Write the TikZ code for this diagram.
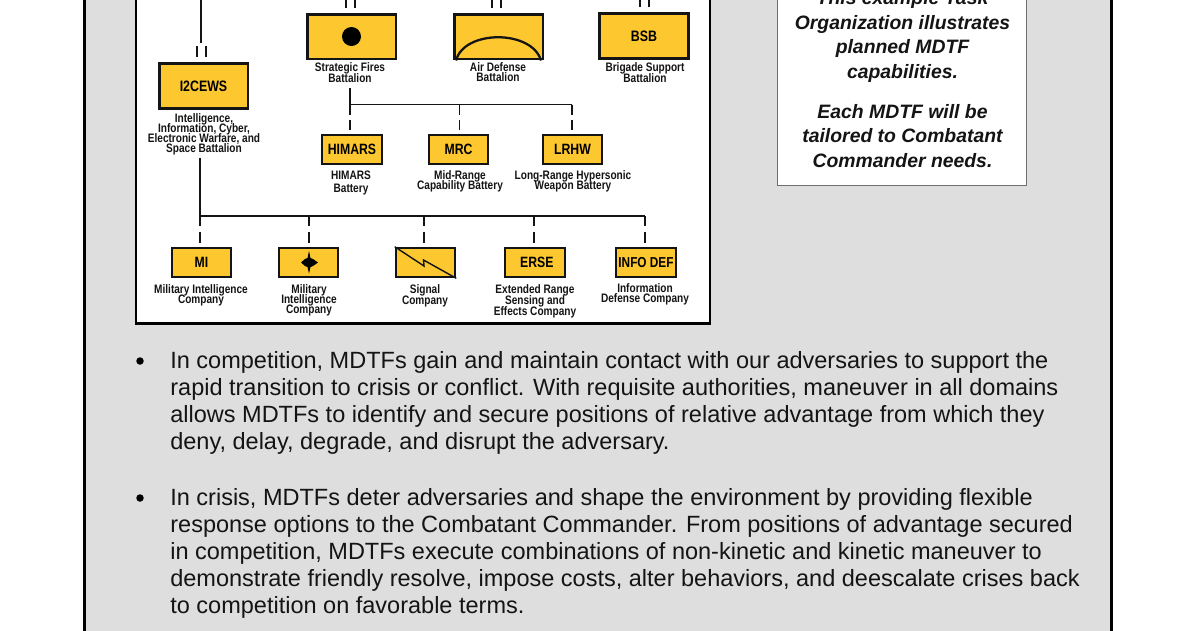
\documentclass[tikz,border=0pt]{standalone}
\usepackage{fontspec}
\setmainfont{Liberation Sans}
\newfontfamily\dinfont[FakeStretch=0.82]{Liberation Sans}
\usetikzlibrary{positioning}
\definecolor{panelgrey}{RGB}{222,222,222}
\definecolor{unityellow}{RGB}{253,200,47}
\definecolor{inkdark}{RGB}{20,20,20}
\definecolor{notegrey}{RGB}{110,110,110}
\newcommand{\tightlines}{\lineskiplimit -10pt\relax}
\tikzset{
  bigunit/.style={draw=inkdark,fill=unityellow,line width=1.7pt,minimum width=1.78cm,minimum height=.9cm,inner sep=0pt,font=\dinfont\bfseries\fontsize{8.6}{9}\selectfont},
  smallunit/.style={draw=inkdark,fill=unityellow,line width=1.2pt,minimum width=1.19cm,minimum height=.59cm,inner sep=0pt,font=\dinfont\bfseries\fontsize{8.5}{9}\selectfont},
  unitlabel/.style={align=center,inner sep=0pt,text=inkdark,font=\dinfont\bfseries\fontsize{7}{5.7}\selectfont\tightlines},
  linkline/.style={draw=inkdark,line width=.75pt},
  droptick/.style={draw=inkdark,line width=.85pt,dash pattern=on 5.7pt off 3.4pt on 6.3pt off 100pt},
  notetext/.style={align=center,inner sep=0pt,text=inkdark,font=\fontsize{11.03}{13.9}\selectfont\bfseries\itshape},
  bodytext/.style={anchor=north west,align=left,inner sep=0pt,text=inkdark,font=\fontsize{13.38}{15.37}\selectfont},
}
\begin{document}
\begin{tikzpicture}[x=0.02cm,y=-0.02cm]
\useasboundingbox (0,0) rectangle (1200,630);
\clip (0,0) rectangle (1200,630);
\fill[white] (0,0) rectangle (1200,630);
\draw[black,line width=1.7pt,fill=panelgrey] (84.5,-20) rectangle (1111.5,650);
\draw[black,line width=1.6pt,fill=white] (136,-20) rectangle (710,323.5);
% note box
\draw[notegrey,line width=.5pt,fill=white] (777,-20) rectangle (1026,185);
\node[notetext] (notetop) at (902.5,36.5) {This example Task\\Organization illustrates\\planned MDTF\\capabilities.};
\node[notetext] (notelow) at (902.5,136) {Each MDTF will be\\tailored to Combatant\\Commander needs.};
% battalions
\node[bigunit] (stratfires) at (351.5,36.5) {};
\node[bigunit] (airdef) at (498.5,36.5) {};
\node[bigunit] (bsb) at (644,36) {BSB};
\node[bigunit] (i2cews) at (203.5,86) {I2CEWS};
\fill[black] (stratfires) circle (.19cm);
\draw[inkdark,line width=1.3pt] ([xshift=2pt]airdef.south west) .. controls (464,29.5) and (532,29.5) .. ([xshift=-2pt]airdef.south east);
\node[unitlabel] (stratlabel) at (350,72.5) {Strategic Fires\\[.6pt]Battalion};
\node[unitlabel] (airlabel) at (498,72) {Air Defense\\Battalion};
\node[unitlabel] (bsblabel) at (645,72.5) {Brigade Support\\[.6pt]Battalion};
\node[unitlabel] (i2label) at (204,134) {Intelligence,\\Information, Cyber,\\Electronic Warfare, and\\Space Battalion};
% batteries
\node[smallunit] (himars) at (352,149.5) {HIMARS};
\node[smallunit] (mrc) at (458.5,149.5) {MRC};
\node[smallunit] (lrhw) at (572.5,149.5) {LRHW};
\node[unitlabel] (himarslabel) at (351,183) {HIMARS\\[1.7pt]Battery};
\node[unitlabel] (mrclabel) at (460,181) {Mid-Range\\Capability Battery};
\node[unitlabel] (lrhwlabel) at (573,181) {Long-Range Hypersonic\\Weapon Battery};
% companies
\node[smallunit] (micoy) at (201.5,262.5) {MI};
\node[smallunit] (starcoy) at (308.5,262.5) {};
\node[smallunit] (signalcoy) at (425.5,262.5) {};
\node[smallunit] (ersecoy) at (535,262.5) {\hspace{2pt}ERSE};
\node[smallunit,font=\dinfont\bfseries\fontsize{8.2}{9}\selectfont] (infocoy) at (646,262.5) {INFO DEF};
\fill[black] (309,251) -- (310.5,258) -- (313,259) -- (318,262.5) -- (313,266) -- (310.5,267) -- (309,273.5) -- (307.5,267) -- (305,266) -- (301,262.5) -- (305,259) -- (307.5,258) -- cycle;
\fill[black] (309,262.5) circle (.08cm);
\draw[inkdark,line width=.8pt] (signalcoy.north west) -- (424,266) -- (423.5,260) -- (signalcoy.south east);
\node[unitlabel] (milabel) at (201,295) {Military Intelligence\\Company};
\node[unitlabel] (starlabel) at (309,300) {Military\\Intelligence\\Company};
\node[unitlabel] (signallabel) at (425,295.5) {Signal\\[.6pt]Company};
\node[unitlabel] (erselabel) at (535,301) {Extended Range\\[.6pt]Sensing and\\[.6pt]Effects Company};
\node[unitlabel] (infolabel) at (645,294) {Information\\Defense Company};
% connectors
\coordinate (feedtop) at (200.8,-2);
\coordinate (feedend) at (200.8,43);
\draw[linkline,line width=1pt] (feedtop) -- (feedend);
\foreach \unit/\lft/\rgt in {i2cews/-6.5/2.5,stratfires/-5.5/3.5,airdef/-6.5/2.5,bsb/-4/5} {
  \draw[linkline,line width=1pt] ([shift={(\lft,-5)}]\unit.north) -- ++(0,-11);
  \draw[linkline,line width=1pt] ([shift={(\rgt,-5)}]\unit.north) -- ++(0,-11);
}
\coordinate (firesstem) at (350,88);
\coordinate (firesbus) at (350,104.5);
\coordinate (mrcbus) at (459.5,104.5);
\coordinate (lrhwbus) at (572,104.5);
\draw[linkline] (firesstem) -- (350,115);
\draw[linkline] (firesbus) -- (lrhwbus);
\draw[linkline] (lrhwbus) -- (572,115);
\draw[linkline] (mrcbus) -- (459.5,115);
\draw[linkline] (350,120) -- (350,130);
\draw[linkline] (459.5,120) -- (459.5,130);
\draw[linkline] (572,120) -- (572,130);
\coordinate (i2stem) at (200,158);
\coordinate (mibus) at (200,216);
\coordinate (infobus) at (645,216);
\draw[linkline] (i2stem) -- (mibus);
\draw[linkline] (mibus) -- (infobus);
\foreach \unit/\busx in {micoy/200,starcoy/309,signalcoy/424,ersecoy/534,infocoy/645} {
  \coordinate (drop) at (\busx,216);
  \draw[droptick] (drop) -- (drop |- \unit.north);
}
% body text
\fill[black] (140,361) circle (.075cm);
\fill[black] (140,498) circle (.075cm);
\node[bodytext] (parcomp) at (170,351.5) {In competition, MDTFs gain and maintain contact with our adversaries to support the\\rapid transition to crisis or conflict. With requisite authorities, maneuver in all domains\\allows MDTFs to identify and secure positions of relative advantage from which they\\deny, delay, degrade, and disrupt the adversary.};
\node[bodytext] (parcrisis) at (170,488.5) {In crisis, MDTFs deter adversaries and shape the environment by providing flexible\\response options to the Combatant Commander. From positions of advantage secured\\in competition, MDTFs execute combinations of non-kinetic and kinetic maneuver to\\demonstrate friendly resolve, impose costs, alter behaviors, and deescalate crises back\\to competition on favorable terms.};
\end{tikzpicture}
\end{document}
